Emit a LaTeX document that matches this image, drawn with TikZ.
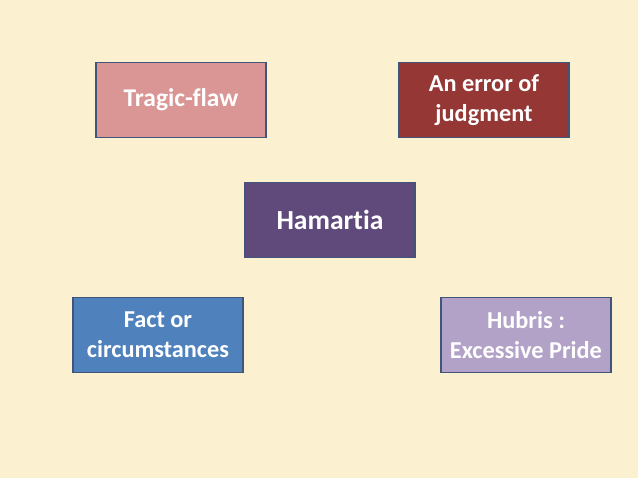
\documentclass[tikz,border=0pt]{standalone}
\usepackage{fontspec}
\setmainfont[Ligatures=NoCommon]{Carlito}
\usepackage{tikz}

\definecolor{parchment}{HTML}{FBF0D0}
\definecolor{edgeblue}{HTML}{41557A}
\definecolor{flawpink}{HTML}{D99694}
\definecolor{errorred}{HTML}{953735}
\definecolor{hamartiapurple}{HTML}{604A7B}
\definecolor{factblue}{HTML}{4F81BD}
\definecolor{hubrislilac}{HTML}{B3A2C7}

\begin{document}
\begin{tikzpicture}[
  x=1pt,y=1pt,
  card/.style={draw=edgeblue,line width=1.3pt,minimum width=170pt,minimum height=75pt,align=center,text=white,inner sep=0pt,font=\fontsize{24.3}{30}\selectfont\bfseries}
]
  % Background
  \fill[parchment] (0,0) rectangle (638,478);
  \useasboundingbox (0,0) rectangle (638,478);

  % Top row
  \node[card,fill=flawpink,font=\fontsize{25.5}{30}\selectfont\bfseries] (flaw) at (181,378) {Tragic-flaw};
  \node[card,fill=errorred] (error) at (484,378) {An error of\\judgment};

  % Centre
  \node[card,fill=hamartiapurple,font=\fontsize{27.6}{30}\selectfont\bfseries] (hamartia) at (330,258) {Hamartia};

  % Bottom row
  \node[card,fill=factblue] (fact) at (158,143) {Fact or\\circumstances};
  \node[card,fill=hubrislilac] (hubris) at (526,143) {Hubris :\\Excessive Pride};
\end{tikzpicture}
\end{document}
